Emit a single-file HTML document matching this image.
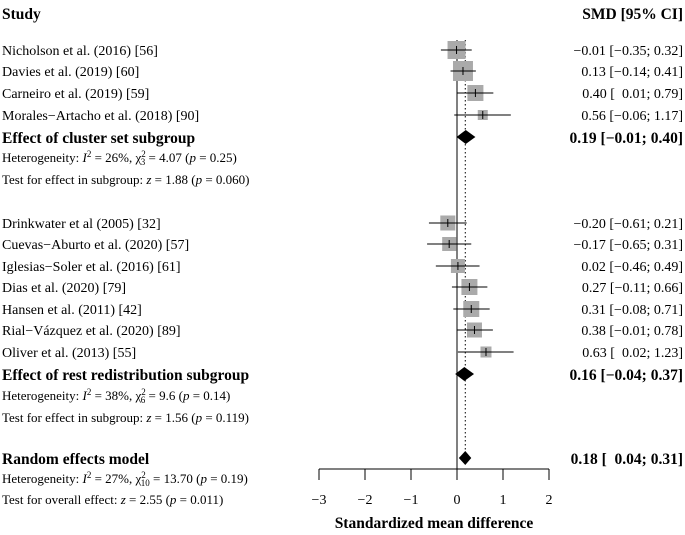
<!DOCTYPE html>
<html><head><meta charset="utf-8"><style>
body{margin:0;background:#fff}
svg{display:block;font-family:"Liberation Serif",serif;font-size:14px}
.b{font-weight:bold}
</style></head><body>
<svg id="c" width="685" height="535" xmlns="http://www.w3.org/2000/svg"></svg>
<script>
const labels=["Nicholson et al. (2016) [56]","Davies et al. (2019) [60]","Carneiro et al. (2019) [59]","Morales\u2212Artacho et al. (2018) [90]","Drinkwater et al (2005) [32]","Cuevas\u2212Aburto et al. (2020) [57]","Iglesias\u2212Soler et al. (2016) [61]","Dias et al. (2020) [79]","Hansen et al. (2011) [42]","Rial\u2212V\u00e1zquez et al. (2020) [89]","Oliver et al. (2013) [55]"];
const est=[-0.01,0.13,0.40,0.56,-0.20,-0.17,0.02,0.27,0.31,0.38,0.63];
const lo=[-0.35,-0.14,0.01,-0.06,-0.61,-0.65,-0.46,-0.11,-0.08,-0.01,0.02];
const hi=[0.32,0.41,0.79,1.17,0.21,0.31,0.49,0.66,0.71,0.78,1.23];
const weights=[18,20,16,10,15,14,14,16,16,15,11];
const rowY=[50,71,93,115,223,244,266,287,309,330,352];
const pooledEst=[0.19,0.16,0.18];
const pooledLo=[-0.01,-0.04,0.04];
const pooledHi=[0.40,0.37,0.31];
const pooledY=[137,374,458];
const ticks=[-3,-2,-1,0,1,2];
const svg=document.getElementById('c');const NS="http://www.w3.org/2000/svg";
const X=v=>457+v*46;
function el(t,a,txt){const e=document.createElementNS(NS,t);for(const k in a)e.setAttribute(k,a[k]);if(txt!=null)e.innerHTML=txt;svg.appendChild(e);return e;}
function f(v){return (v<0?"\u2212":"")+Math.abs(v).toFixed(2);}
function ci(e,l,h){return f(e)+" ["+(l<0?"":"\u2007")+f(l)+"; "+f(h)+"]";}
let t;
t=el('text',{x:2,y:19,class:'b','font-size':'15.5'},'Study');
t=el('text',{x:683,y:19,class:'b','font-size':'15.5','text-anchor':'end'},'SMD [95% CI]');
t=el('line',{x1:X(0),y1:40,x2:X(0),y2:469,stroke:'#000'});
t=el('line',{x1:X(pooledEst[2]),y1:40,x2:X(pooledEst[2]),y2:458,stroke:'#000','stroke-dasharray':'1.5,2.5'});
for(let i=0;i<labels.length;i++){
 const y=rowY[i],s=weights[i];
 t=el('text',{x:2,y:y+5},labels[i]);
 t=el('rect',{x:X(est[i])-s/2,y:y-s/2,width:s,height:s,fill:'#aaa'});
 t=el('line',{x1:X(lo[i]),y1:y,x2:X(hi[i]),y2:y,stroke:'#000'});
 t=el('line',{x1:X(est[i]),y1:y-4,x2:X(est[i]),y2:y+4,stroke:'#000'});
 t=el('text',{x:683,y:y+5,'text-anchor':'end'},ci(est[i],lo[i],hi[i]));
}
const plab=["Effect of cluster set subgroup","Effect of rest redistribution subgroup","Random effects model"];
for(let i=0;i<3;i++){const y=pooledY[i];
 t=el('text',{x:2,y:y+6,class:'b','font-size':'15.5'},plab[i]);
 t=el('polygon',{points:`${X(pooledLo[i])},${y} ${X(pooledEst[i])},${y-7} ${X(pooledHi[i])},${y} ${X(pooledEst[i])},${y+7}`,fill:'#000'});
 t=el('text',{x:683,y:y+6,class:'b','font-size':'15.5','text-anchor':'end'},ci(pooledEst[i],pooledLo[i],pooledHi[i]));
}
const notes=[[158,'Heterogeneity: <tspan font-style="italic">I</tspan><tspan dy="-5" font-size="9">2</tspan><tspan dy="5"> = 26%, χ</tspan><tspan dy="-5" font-size="9">2</tspan><tspan dy="8" dx="-5" font-size="9">3</tspan><tspan dy="-3"> = 4.07 (</tspan><tspan font-style="italic">p</tspan> = 0.25)'],
[180,'Test for effect in subgroup: <tspan font-style="italic">z</tspan> = 1.88 (<tspan font-style="italic">p</tspan> = 0.060)'],
[396,'Heterogeneity: <tspan font-style="italic">I</tspan><tspan dy="-5" font-size="9">2</tspan><tspan dy="5"> = 38%, χ</tspan><tspan dy="-5" font-size="9">2</tspan><tspan dy="8" dx="-5" font-size="9">6</tspan><tspan dy="-3"> = 9.6 (</tspan><tspan font-style="italic">p</tspan> = 0.14)'],
[418,'Test for effect in subgroup: <tspan font-style="italic">z</tspan> = 1.56 (<tspan font-style="italic">p</tspan> = 0.119)'],
[479,'Heterogeneity: <tspan font-style="italic">I</tspan><tspan dy="-5" font-size="9">2</tspan><tspan dy="5"> = 27%, χ</tspan><tspan dy="-5" font-size="9">2</tspan><tspan dy="8" dx="-5" font-size="9">10</tspan><tspan dy="-3"> = 13.70 (</tspan><tspan font-style="italic">p</tspan> = 0.19)'],
[500,'Test for overall effect: <tspan font-style="italic">z</tspan> = 2.55 (<tspan font-style="italic">p</tspan> = 0.011)']];
for(const n of notes){t=el('text',{x:2,y:n[0]+4,'font-size':'13'},n[1]);}
t=el('line',{x1:X(ticks[0]),y1:469,x2:X(ticks[ticks.length-1]),y2:469,stroke:'#000'});
for(const v of ticks){
 t=el('line',{x1:X(v),y1:469,x2:X(v),y2:480,stroke:'#000'});
 t=el('text',{x:X(v),y:504,'text-anchor':'middle'},f(v).replace('.00',''));
}
t=el('text',{x:434,y:528,'text-anchor':'middle',class:'b','font-size':'15.5'},'Standardized mean difference');
</script>
</body></html>
